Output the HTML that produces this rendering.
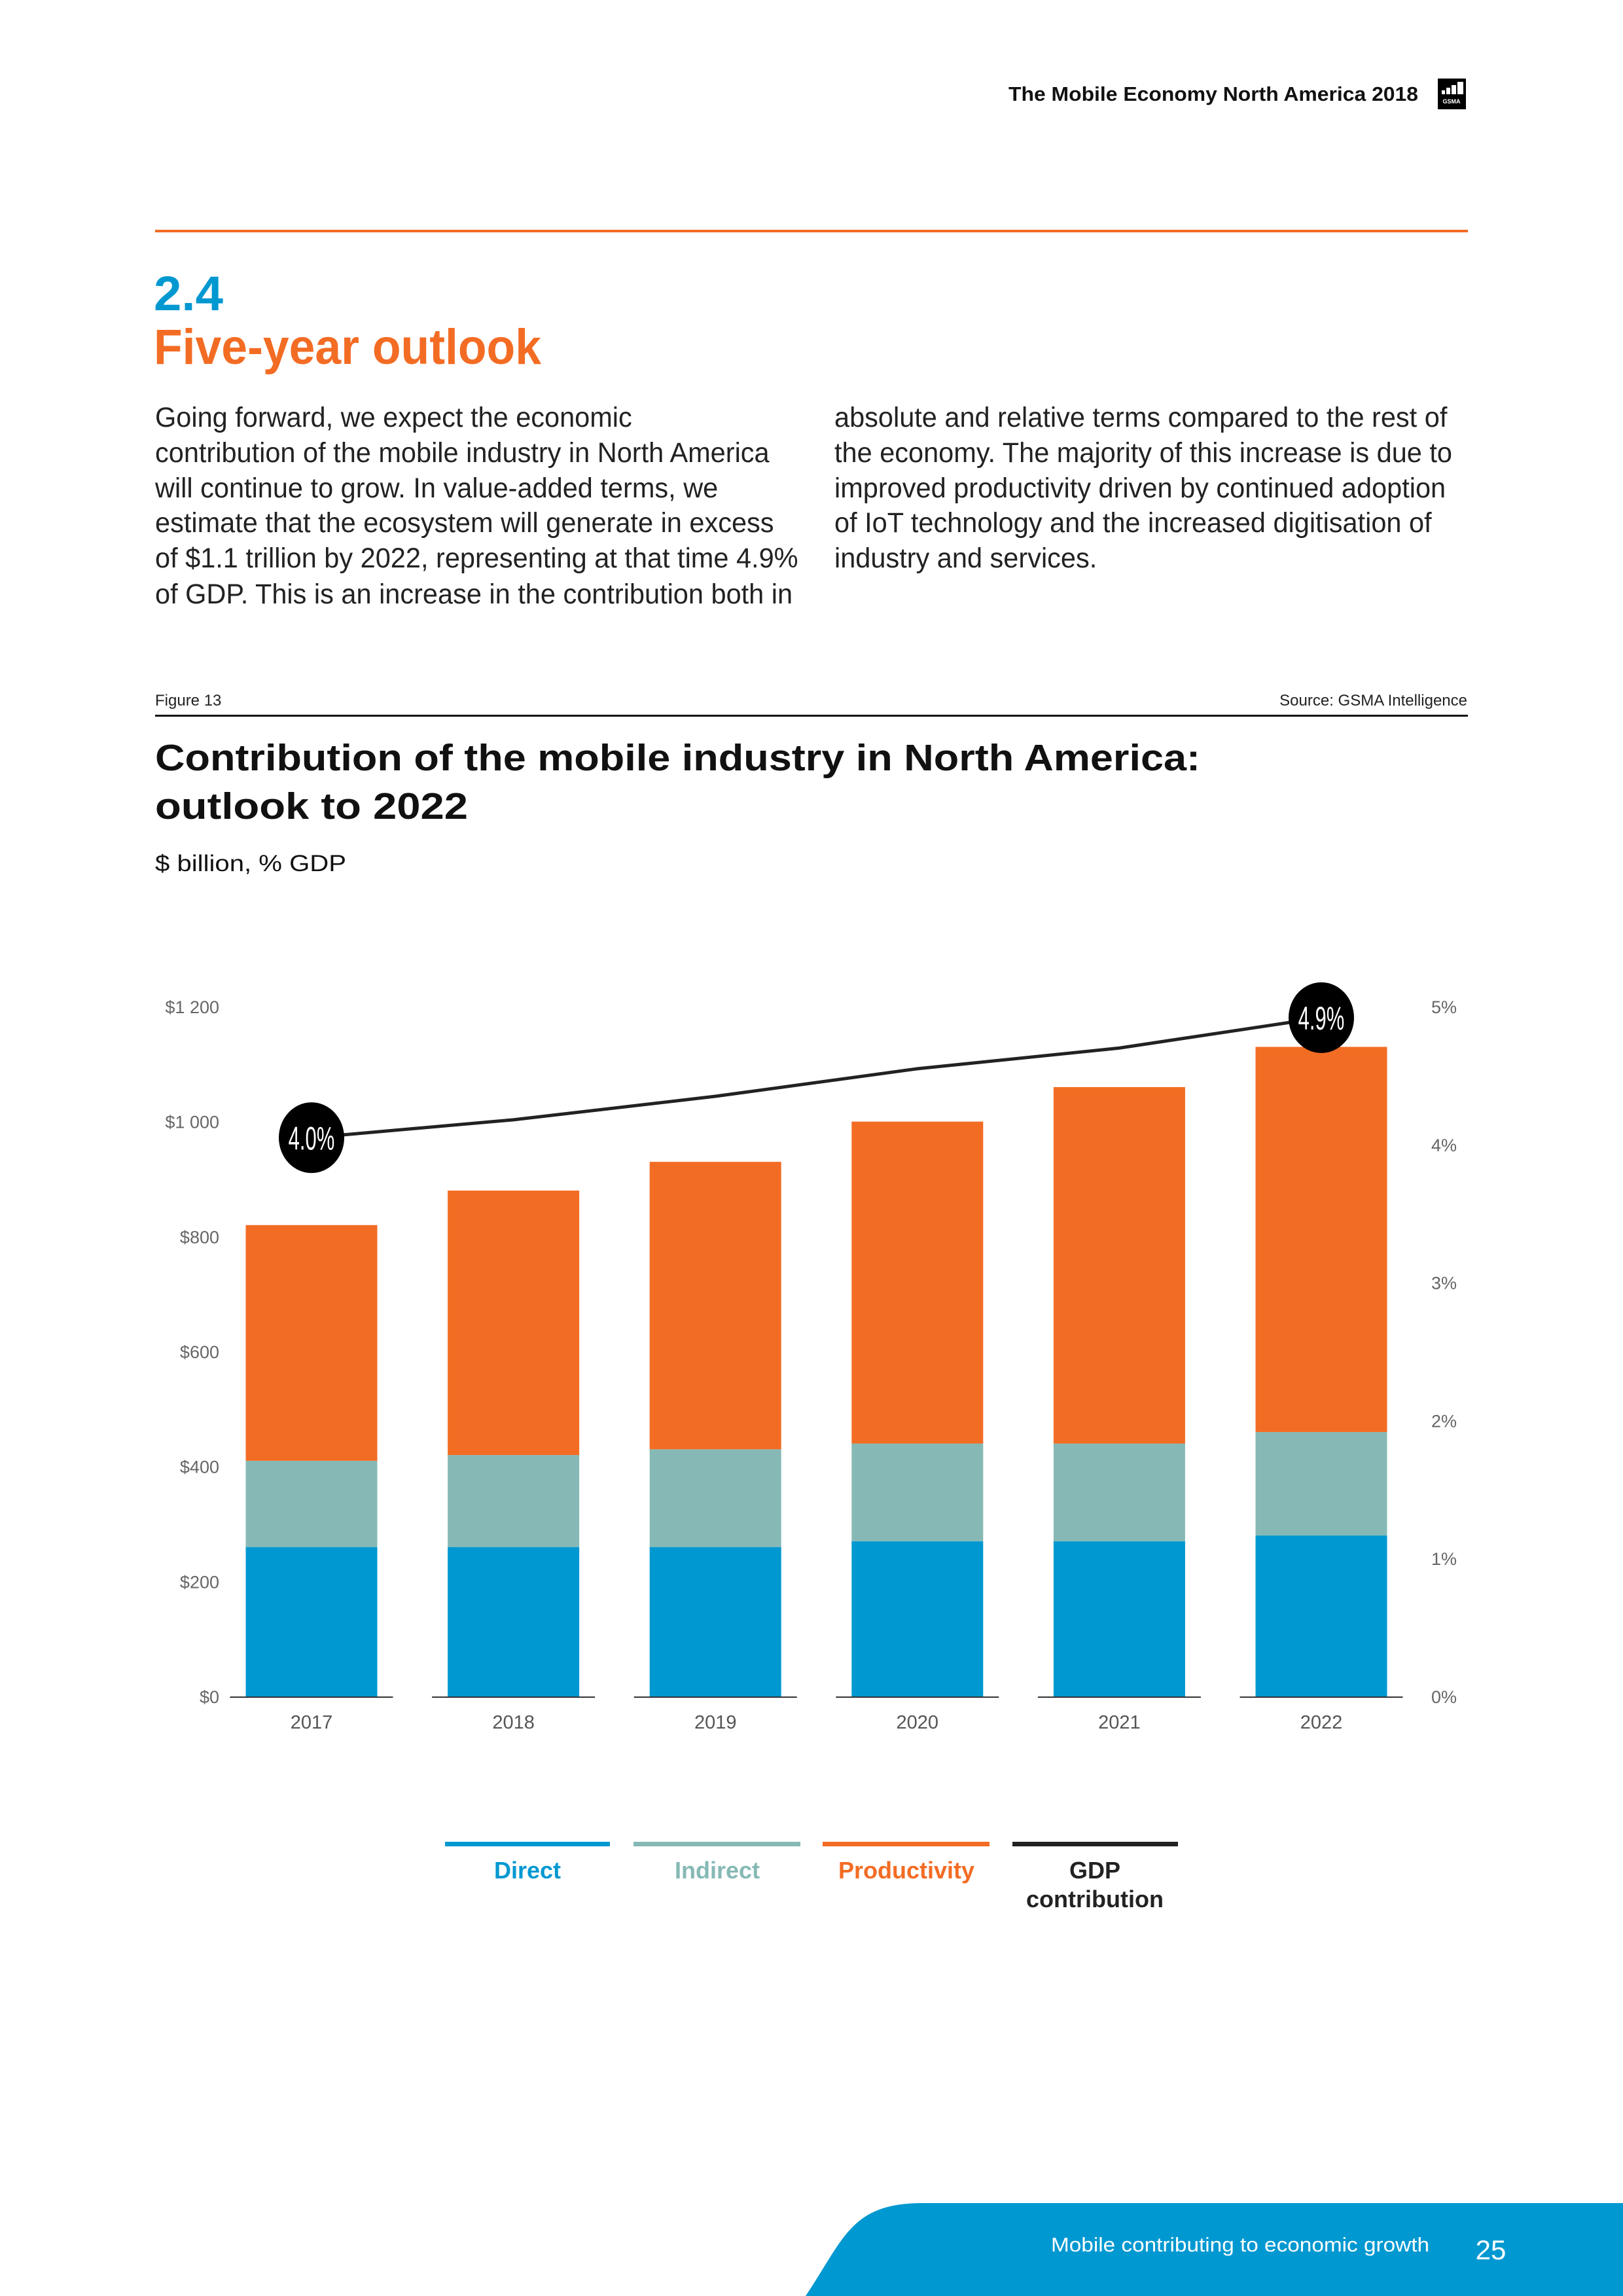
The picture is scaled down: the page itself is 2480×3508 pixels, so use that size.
<!DOCTYPE html>
<html><head><meta charset="utf-8"><style>
html,body{margin:0;padding:0;background:#fff}
svg{display:block}
text{font-family:"Liberation Sans",sans-serif}
</style></head><body>
<svg id="page" width="2480" height="3508" viewBox="0 0 2480 3508" xmlns="http://www.w3.org/2000/svg">
<text x="2167" y="154" text-anchor="end" font-size="31" font-weight="bold" fill="#111" textLength="626" lengthAdjust="spacingAndGlyphs">The Mobile Economy North America 2018</text>
<g>
<rect x="2197" y="120" width="43" height="47" fill="#000"/>
<rect x="2203" y="138" width="5" height="6" fill="#fff"/><rect x="2210" y="134" width="6" height="10" fill="#fff"/><rect x="2218" y="130" width="7" height="14" fill="#fff"/><rect x="2227" y="125" width="9" height="19" fill="#fff"/>
<text x="2218" y="158" text-anchor="middle" font-size="9" font-weight="bold" fill="#fff">GSMA</text>
</g>
<rect x="237" y="351" width="2006" height="4" fill="#f36c24"/>
<text x="235" y="474" font-size="74" font-weight="bold" fill="#0098d1" textLength="106" lengthAdjust="spacingAndGlyphs">2.4</text>
<text x="235" y="556" font-size="76" font-weight="bold" fill="#f36c24" textLength="592" lengthAdjust="spacingAndGlyphs">Five-year outlook</text>
<g font-size="43" fill="#222">
<g transform="translate(237 0) scale(0.965 1)">
<text x="0" y="652">Going forward, we expect the economic</text>
<text x="0" y="706">contribution of the mobile industry in North America</text>
<text x="0" y="760">will continue to grow. In value-added terms, we</text>
<text x="0" y="813">estimate that the ecosystem will generate in excess</text>
<text x="0" y="867">of $1.1 trillion by 2022, representing at that time 4.9%</text>
<text x="0" y="922">of GDP. This is an increase in the contribution both in</text>
</g>
<g transform="translate(1275 0) scale(0.965 1)">
<text x="0" y="652">absolute and relative terms compared to the rest of</text>
<text x="0" y="706">the economy. The majority of this increase is due to</text>
<text x="0" y="760">improved productivity driven by continued adoption</text>
<text x="0" y="813">of IoT technology and the increased digitisation of</text>
<text x="0" y="867">industry and services.</text>
</g>
</g>
<text x="237" y="1078" font-size="24" fill="#222">Figure 13</text>
<text x="2242" y="1078" text-anchor="end" font-size="24" fill="#222">Source: GSMA Intelligence</text>
<rect x="237" y="1092" width="2006" height="3" fill="#111"/>
<text x="237" y="1177" font-size="57" font-weight="bold" fill="#111" textLength="1597" lengthAdjust="spacingAndGlyphs">Contribution of the mobile industry in North America:</text>
<text x="237" y="1251" font-size="57" font-weight="bold" fill="#111" textLength="478" lengthAdjust="spacingAndGlyphs">outlook to 2022</text>
<text x="237" y="1331" font-size="35" fill="#111" textLength="292" lengthAdjust="spacingAndGlyphs">$ billion, % GDP</text>
<g id="chart"></g>
<g>
<g><rect x="680" y="2814" width="252" height="7" fill="#0098d1"/><text x="806" y="2870" text-anchor="middle" font-size="36" font-weight="bold" fill="#0098d1">Direct</text></g>
<g><rect x="968" y="2814" width="255" height="7" fill="#86b9b5"/><text x="1096" y="2870" text-anchor="middle" font-size="36" font-weight="bold" fill="#86b9b5">Indirect</text></g>
<g><rect x="1257" y="2814" width="255" height="7" fill="#f36c24"/><text x="1385" y="2870" text-anchor="middle" font-size="36" font-weight="bold" fill="#f36c24">Productivity</text></g>
<g><rect x="1547" y="2814" width="253" height="7" fill="#222"/><text x="1673" y="2870" text-anchor="middle" font-size="36" font-weight="bold" fill="#222">GDP</text><text x="1673" y="2914" text-anchor="middle" font-size="36" font-weight="bold" fill="#222">contribution</text></g>
</g>
<path d="M1231 3508 C1290 3420 1300 3366 1410 3366 L2480 3366 L2480 3508 Z" fill="#0098d1"/>
<text x="2184" y="3440" text-anchor="end" font-size="31" fill="#fff" textLength="578" lengthAdjust="spacingAndGlyphs">Mobile contributing to economic growth</text>
<text x="2278" y="3452" text-anchor="middle" font-size="42" fill="#fff">25</text>
</svg>
<script>
const years = ["2017","2018","2019","2020","2021","2022"];
const direct = [260,260,260,270,270,280];
const indirect = [150,160,170,170,170,180];
const productivity = [410,460,500,560,620,670];
const gdp = [4.05,4.18,4.35,4.55,4.7,4.92];
const leftTicks = [0,200,400,600,800,1000,1200];
const leftTickLabels = ["$0","$200","$400","$600","$800","$1 000","$1 200"];
const rightTicks = [0,1,2,3,4,5];
const rightTickLabels = ["0%","1%","2%","3%","4%","5%"];
const bubbleIdx = [0,5];
const bubbleLabels = ["4.0%","4.9%"];

const NS="http://www.w3.org/2000/svg";
const g=document.getElementById('chart');
const y0=2592, y1=1538;
const yL=v=>y0-(v/1200)*(y0-y1);
const yR=v=>y0-(v/5)*(y0-y1);
const xC=i=>476+i*308.6;
const bw=201;
function mk(t,a,p){const e=document.createElementNS(NS,t);for(const k in a)e.setAttribute(k,a[k]);(p||g).appendChild(e);return e;}
leftTicks.forEach((v,i)=>{const t=mk('text',{x:335,y:yL(v)+10,'text-anchor':'end','font-size':27,fill:'#666'});t.textContent=leftTickLabels[i];

});
rightTicks.forEach((v,i)=>{const t=mk('text',{x:2187,y:yR(v)+10,'font-size':27,fill:'#666'});t.textContent=rightTickLabels[i];

});
years.forEach((yr,i)=>{
  const x=xC(i)-bw/2;
  const segs=[[0,direct[i],'#0098d1','bar-direct'],[direct[i],direct[i]+indirect[i],'#86b9b5','bar-indirect'],[direct[i]+indirect[i],direct[i]+indirect[i]+productivity[i],'#f36c24','bar-productivity']];
  segs.forEach(s=>{const r=mk('rect',{x:x,y:yL(s[1]),width:bw,height:yL(s[0])-yL(s[1]),fill:s[2]});
    
    });
  const b=mk('rect',{x:x-24,y:y0,width:bw+48,height:2,fill:'#333'});
  
  
  const t=mk('text',{x:xC(i),y:2641,'text-anchor':'middle','font-size':29,fill:'#555'});t.textContent=yr;
  
  
});
const pts=gdp.map((v,i)=>xC(i)+','+yR(v)).join(' ');
const pl=mk('polyline',{points:pts,fill:'none',stroke:'#222','stroke-width':5});


bubbleIdx.forEach((idx,k)=>{
  const c=mk('ellipse',{cx:xC(idx),cy:yR(gdp[idx]),rx:50,ry:54,fill:'#000'});
  
  
  const grp=mk('g',{transform:'translate('+xC(idx)+' '+(yR(gdp[idx])+18)+') scale(0.62 1)'});
  const t=mk('text',{x:0,y:0,'text-anchor':'middle','font-size':50,fill:'#fff'},grp);
  t.textContent=bubbleLabels[k];
  
  
});
</script>
</body></html>
